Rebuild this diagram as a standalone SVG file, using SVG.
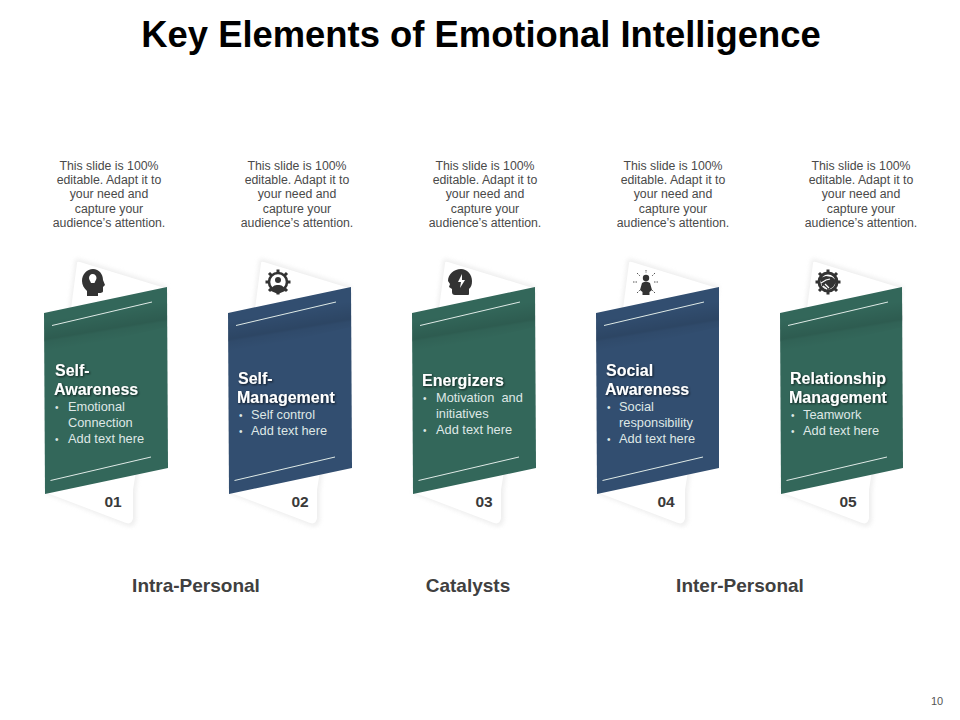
<svg xmlns="http://www.w3.org/2000/svg" xmlns:xlink="http://www.w3.org/1999/xlink" width="960" height="720" viewBox="0 0 960 720">
<style>
text{font-family:"Liberation Sans",Arial,sans-serif}
.title{font-size:36.400px;font-weight:700;fill:#000;text-anchor:middle}
.desc{font-size:12.300px;fill:#4a4a4a;text-anchor:middle}
.head{font-size:16px;font-weight:700;fill:#fff;filter:url(#ts)}
.body{font-size:12.800px;fill:#dfe8e6}
.bul{font-size:10px;fill:#dfe8e6}
.num{font-size:15.500px;font-weight:700;fill:#3a3a3a;text-anchor:middle}
.group{font-size:19px;font-weight:700;fill:#404040;text-anchor:middle}
.page{font-size:11px;fill:#555;text-anchor:middle}
.rule{stroke:#dfeae6;stroke-width:1;fill:none}
.ic{fill:#333}
.green{fill:#33675a}
.blue{fill:#324e70}
</style>
<defs>
<filter id="ts" x="-10%" y="-20%" width="125%" height="150%"><feDropShadow dx="1" dy="1" stdDeviation="0.9" flood-color="#000" flood-opacity="0.7"/></filter>
<filter id="soft" x="-15%" y="-15%" width="130%" height="130%"><feGaussianBlur stdDeviation="2.200"/></filter>
<linearGradient id="foldp" gradientUnits="userSpaceOnUse" x1="60" y1="24" x2="65" y2="54">
<stop offset="0" stop-color="#000" stop-opacity="0"/>
<stop offset="0.6" stop-color="#000" stop-opacity="0.11"/>
<stop offset="0.68" stop-color="#000" stop-opacity="0.05"/>
<stop offset="1" stop-color="#000" stop-opacity="0"/>
</linearGradient>
<g id="back">
<path d="M75 261Q75 258 79 259L167 286L136 490V520Q135 528 127 526L46 494Z" fill="#e6e6e6" filter="url(#soft)" opacity="0.65"/>
<path d="M77 263Q77 261 80 262L165 288L133 490V518Q132 525 126 523L47 493Z" fill="#fff"/>
</g>
<g id="fx">
<path d="M0 34L123 8V40L0 68Z" fill="url(#foldp)"/>
<path d="M8 38.500L108 15M6.500 193.500L107 170" class="rule"/>
</g>
</defs>

<text class="title" x="481" y="47">Key Elements of Emotional Intelligence</text>

<g id="connectors"></g>

<g id="node-1">
<text class="desc" x="109" y="170">This slide is 100%</text><text class="desc" x="109" y="184">editable. Adapt it to</text><text class="desc" x="109" y="198">your need and</text><text class="desc" x="109" y="213">capture your</text><text class="desc" x="109" y="227">audience’s attention.</text>
<use xlink:href="#back"/>
<path class="ic" d="M93 269C99 269 103 274 103 280L105 285L103 287L103 291C103 293 100 293 98 293L98 296L87 296L87 291C84 288 82 285 82 281C82 274 87 269 93 269Z"/>
<path d="M92.500 274C95 274 96.500 276 96.500 278C96.500 280 95 281 94.500 283H91C90.500 281 89 280 89 278C89 276 90.500 274 92.500 274Z" fill="#fff"/>
<path class="green" d="M44 313L167 287L168 468L45 494Z"/>
<use xlink:href="#fx" transform="translate(44 287)"/>
<text class="head" x="55" y="376">Self-</text><text class="head" x="54" y="395">Awareness</text>
<text class="bul" x="55" y="411">•</text><text class="body" x="68" y="411">Emotional</text><text class="body" x="68" y="427">Connection</text><text class="bul" x="55" y="443">•</text><text class="body" x="68" y="443">Add text here</text>
<text class="num" x="113" y="507">01</text>
</g>

<g id="node-2">
<text class="desc" x="297" y="170">This slide is 100%</text><text class="desc" x="297" y="184">editable. Adapt it to</text><text class="desc" x="297" y="198">your need and</text><text class="desc" x="297" y="213">capture your</text><text class="desc" x="297" y="227">audience’s attention.</text>
<use xlink:href="#back" transform="translate(184 0)"/>
<circle cx="278" cy="282" r="9" fill="none" stroke="#333" stroke-width="2.600"/>
<path d="M278 269.500V273M278 291V294.500M265.500 282H269M287 282H290.500M269 273L271.500 275.500M284.500 288.500L287 291M269 291L271.500 288.500M284.500 275.500L287 273" stroke="#333" stroke-width="3"/>
<circle class="ic" cx="278" cy="280" r="3"/>
<path class="ic" d="M271 291C271 286 275 285 278 285C281 285 285 286 285 291L278 294Z"/>
<path class="blue" d="M228 313L351 287L352 468L229 494Z"/>
<use xlink:href="#fx" transform="translate(228 287)"/>
<text class="head" x="238" y="384">Self-</text><text class="head" x="237" y="403">Management</text>
<text class="bul" x="239" y="419">•</text><text class="body" x="251" y="419">Self control</text><text class="bul" x="239" y="435">•</text><text class="body" x="251" y="435">Add text here</text>
<text class="num" x="300" y="507">02</text>
</g>

<g id="node-3">
<text class="desc" x="485" y="170">This slide is 100%</text><text class="desc" x="485" y="184">editable. Adapt it to</text><text class="desc" x="485" y="198">your need and</text><text class="desc" x="485" y="213">capture your</text><text class="desc" x="485" y="227">audience’s attention.</text>
<use xlink:href="#back" transform="translate(368 0)"/>
<path class="ic" d="M461 269C467 269 472 274 472 281C472 285 471 287 469 289V294C469 295 468 295 467 295H455C453 295 452 294 452 292V289L449 287L450 284L448 281C448 274 454 269 461 269Z"/>
<path d="M462 274L458 282H461L460 288L465 280H462Z" fill="#fff"/>
<path class="green" d="M412 313L535 287L536 468L413 494Z"/>
<use xlink:href="#fx" transform="translate(412 287)"/>
<text class="head" x="422" y="386">Energizers</text>
<text class="bul" x="423" y="402">•</text><text class="body" x="436" y="402" xml:space="preserve">Motivation  and</text><text class="body" x="436" y="418">initiatives</text><text class="bul" x="423" y="434">•</text><text class="body" x="436" y="434">Add text here</text>
<text class="num" x="484" y="507">03</text>
</g>

<g id="node-4">
<text class="desc" x="673" y="170">This slide is 100%</text><text class="desc" x="673" y="184">editable. Adapt it to</text><text class="desc" x="673" y="198">your need and</text><text class="desc" x="673" y="213">capture your</text><text class="desc" x="673" y="227">audience’s attention.</text>
<use xlink:href="#back" transform="translate(552 0)"/>
<circle class="ic" cx="646" cy="278" r="3.200"/>
<path class="ic" d="M642 283Q646 280 650 283L652 290L649.500 292V295H642.500V292L640 290Z"/>
<path d="M646 270V273M633 282H638M654 282H659M637 273L640 276M655 273L652 276M637 293L640 290M655 293L652 290" stroke="#555" stroke-width="1" stroke-dasharray="1.500 1"/>
<path class="blue" d="M596 313L719 287L719 468L597 494Z"/>
<use xlink:href="#fx" transform="translate(596 287)"/>
<text class="head" x="606" y="376">Social</text><text class="head" x="605" y="395">Awareness</text>
<text class="bul" x="607" y="411">•</text><text class="body" x="619" y="411">Social</text><text class="body" x="619" y="427">responsibility</text><text class="bul" x="607" y="443">•</text><text class="body" x="619" y="443">Add text here</text>
<text class="num" x="666" y="507">04</text>
</g>

<g id="node-5">
<text class="desc" x="861" y="170">This slide is 100%</text><text class="desc" x="861" y="184">editable. Adapt it to</text><text class="desc" x="861" y="198">your need and</text><text class="desc" x="861" y="213">capture your</text><text class="desc" x="861" y="227">audience’s attention.</text>
<use xlink:href="#back" transform="translate(736 0)"/>
<circle cx="828" cy="282" r="9" fill="none" stroke="#333" stroke-width="3"/>
<path d="M828 269.500V273M828 291V294.500M815.500 282H819M837 282H840.500M819 273L821.500 275.500M834.500 288.500L837 291M819 291L821.500 288.500M834.500 275.500L837 273" stroke="#333" stroke-width="3"/>
<path class="ic" d="M820 278L826 276L832 277L837 281L833 287L828 290L822 286Z"/>
<path d="M821 283L826 280L830 279M825 284L829 288M823 286L827 289" stroke="#fff" stroke-width="1.200" fill="none"/>
<path class="green" d="M780 313L902 287L903 468L781 494Z"/>
<use xlink:href="#fx" transform="translate(780 287)"/>
<text class="head" x="790" y="384">Relationship</text><text class="head" x="789" y="403">Management</text>
<text class="bul" x="791" y="419">•</text><text class="body" x="803" y="419">Teamwork</text><text class="bul" x="791" y="435">•</text><text class="body" x="803" y="435">Add text here</text>
<text class="num" x="848" y="507">05</text>
</g>

<text class="group" x="196" y="592">Intra-Personal</text>
<text class="group" x="468" y="592">Catalysts</text>
<text class="group" x="740" y="592">Inter-Personal</text>
<text class="page" x="937" y="705">10</text>
</svg>
